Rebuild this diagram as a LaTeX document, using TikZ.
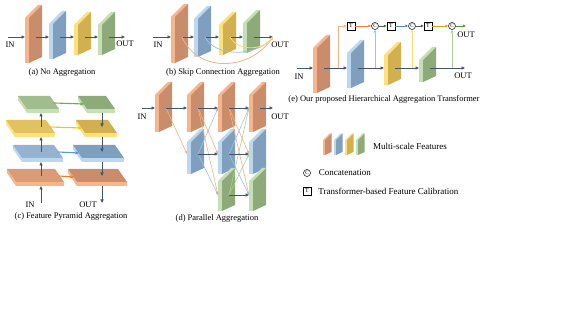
\documentclass[tikz,border=0pt]{standalone}
\usepackage{fontspec}
\setmainfont{Liberation Serif}
\usetikzlibrary{arrows.meta,positioning}

\definecolor{orL}{HTML}{F8B48A}
\definecolor{orD}{HTML}{C98D6C}
\definecolor{blL}{HTML}{BDD7EE}
\definecolor{blD}{HTML}{7F9FBF}
\definecolor{yeL}{HTML}{FFE07F}
\definecolor{yeD}{HTML}{D3B04F}
\definecolor{grL}{HTML}{C5E0B4}
\definecolor{grD}{HTML}{8DAA78}
\definecolor{arr}{HTML}{44546A}
\definecolor{orA}{HTML}{ED7D31}
\definecolor{blA}{HTML}{5B9BD5}
\definecolor{yeA}{HTML}{FFC000}
\definecolor{grA}{HTML}{70AD47}
\definecolor{orS}{HTML}{F4B183}
\definecolor{blS}{HTML}{9DC3E6}
\definecolor{yeS}{HTML}{FFD966}
\definecolor{grS}{HTML}{A9D18E}

\tikzset{
  flow/.style={arr, line width=0.9pt, -{Triangle[length=3.5pt,width=3pt]}},
  hflow/.style={line width=1.1pt, -{Triangle[length=3.5pt,width=3pt]}},
  thinflow/.style={line width=0.8pt, -{Triangle[length=3pt,width=2.6pt]}},
  dflow/.style={line width=0.6pt, -{Triangle[length=3pt,width=2.4pt]}},
  lbl/.style={font=\fontsize{8.5}{10}\selectfont, inner sep=0pt},
  subcap/.style={font=\fontsize{8.5}{10}\selectfont, inner sep=0pt},
  legend/.style={font=\fontsize{9}{11}\selectfont, inner sep=0pt, anchor=west},
  calib/.style={draw, line width=0.5pt, minimum size=8pt, inner sep=0pt, fill=white, font=\fontsize{6}{6}\selectfont},
  concat/.style={circle, draw, line width=0.5pt, minimum size=7pt, inner sep=0pt, fill=white, font=\fontsize{5}{5}\selectfont},
  % standing feature map: #1 above the line, #2 below, #3 light, #4 dark
  pics/fmap/.style n args={4}{code={
    \fill[#3] (0,-#1) rectangle (4,#2);
    \fill[#3] (0,-#1) -- (13,-#1-13) -- (17,-#1-13) -- (4,-#1) -- cycle;
    \fill[#4] (4,-#1) -- (17,-#1-13) -- (17,#2-6) -- (4,#2) -- cycle;
    \coordinate (-in) at (0,0);
    \coordinate (-out) at (11,0);
  }},
  % flat feature map: #1 width, #2 light, #3 dark
  pics/flat/.style n args={3}{code={
    \fill[#2] (0,0) -- (9,13) -- (9,17) -- (0,4) -- cycle;
    \fill[#2] (9,13) -- (#1+9,13) -- (#1+9,17) -- (9,17) -- cycle;
    \fill[#3] (0,0) -- (#1,0) -- (#1+9,13) -- (9,13) -- cycle;
    \coordinate (-w) at (6,8);
    \coordinate (-e) at (#1+4,7);
    \coordinate (-mid) at (0,7);
    \coordinate (-bot) at (0,17);
  }},
}

\begin{document}
\begin{tikzpicture}[x=1pt, y=-1pt]
	\useasboundingbox (0,0) rectangle (573,323);

	% (a) no aggregation
	\pic (aOr) at (25,37) {fmap={19}{26}{orL}{orD}};
	\pic (aBl) at (49,37) {fmap={13}{22}{blL}{blD}};
	\pic (aYe) at (74,37) {fmap={12}{18}{yeL}{yeD}};
	\pic (aGr) at (98,37) {fmap={12}{18}{grL}{grD}};
	\coordinate (aIn) at (8,37);
	\coordinate (aOut) at (125,37);
	\draw [flow] (aIn) -- (aOr-in);
	\draw [flow] (aOr-out) -- (aBl-in);
	\draw [flow] (aBl-out) -- (aYe-in);
	\draw [flow] (aYe-out) -- (aGr-in);
	\draw [flow] (aGr-out) -- (aOut);
	\node [lbl] (aInL) at (10,45) {IN};
	\node [lbl] (aOutL) at (125,44) {OUT};
	\node [subcap] (aCap) at (62,72) {(a) No Aggregation};

	% (b) skip connections
	\pic (bOr) at (171,37) {fmap={20}{26}{orL}{orD}};
	\pic (bBl) at (194,37) {fmap={18}{20}{blL}{blD}};
	\pic (bYe) at (219,37) {fmap={12}{18}{yeL}{yeD}};
	\pic (bGr) at (243,37) {fmap={14}{16}{grL}{grD}};
	\coordinate (bIn) at (153,37);
	\coordinate (bOut) at (273,37);
	\draw [flow] (bIn) -- (bOr-in);
	\draw [flow] (bOr-out) -- (bBl-in);
	\draw [flow] (bBl-out) -- (bYe-in);
	\draw [flow] (bYe-out) -- (bGr-in);
	\draw [flow] (bGr-out) -- (bOut);
	\draw [thinflow, orS] (bOr-out) .. controls +(15,35) and +(-25,35) .. (bOut);
	\draw [thinflow, blS] (bBl-out) .. controls +(10,20) and +(-18,20) .. (bOut);
	\draw [thinflow, yeS] (bYe-out) .. controls +(8,14) and +(-12,14) .. (bOut);
	\node [lbl] (bInL) at (158,45) {IN};
	\node [lbl] (bOutL) at (280,45) {OUT};
	\node [subcap] (bCap) at (223,72) {(b) Skip Connection Aggregation};

	% (e) hierarchical aggregation transformer
	\pic (eOr) at (313,68) {fmap={20}{25}{orL}{orD}};
	\pic (eBl) at (347,68) {fmap={15}{20}{blL}{blD}};
	\pic (eYe) at (384,68) {fmap={13}{17}{yeL}{yeD}};
	\pic (eGr) at (419,68) {fmap={8}{14}{grL}{grD}};
	\coordinate (eIn) at (297,68);
	\coordinate (eOut) at (465,68);
	\coordinate (eBr) at (338,68);
	\coordinate (eTop) at (466,26);
	\node [calib] (T1) at (351,26) {T};
	\node [concat] (C1) at (375,26) {C};
	\node [calib] (T2) at (391,26) {T};
	\node [concat] (C2) at (412,26) {C};
	\node [calib] (T3) at (428,26) {T};
	\node [concat] (C3) at (452,26) {C};
	\draw [thinflow, orS] (eBr) |- (T1);
	\draw [thinflow, blS] (C1 |- eBl-out) -- (C1);
	\draw [thinflow, yeS] (C2 |- eYe-out) -- (C2);
	\draw [thinflow, grS] (C3 |- eGr-out) -- (C3);
	\draw [thinflow, orA] (T1) -- (C1);
	\draw [thinflow, black!65] (C1) -- (T2);
	\draw [thinflow, blA!90!black] (T2) -- (C2);
	\draw [thinflow, black!65] (C2) -- (T3);
	\draw [thinflow, yeA!85!black] (T3) -- (C3);
	\draw [thinflow, grA!85!black] (C3) -- (eTop);
	\draw [flow] (eIn) -- (eOr-in);
	\draw [flow] (eOr-out) -- (eBl-in);
	\draw [flow] (eBl-out) -- (eYe-in);
	\draw [flow] (eYe-out) -- (eGr-in);
	\draw [flow] (eGr-out) -- (eOut);
	\node [lbl] (eInL) at (299,77) {IN};
	\node [lbl] (eOutL) at (463,76) {OUT};
	\node [lbl] (eTopL) at (466,35) {OUT};
	\node [subcap] (eCap) at (384,99) {(e) Our proposed Hierarchical Aggregation Transformer};

	% (c) feature pyramid
	\pic (cGrL) at (18,96) {flat={32}{grL}{grD!65!grL}};
	\pic (cYeL) at (6,120) {flat={40}{yeL}{yeD!65!yeL}};
	\pic (cBlL) at (13,145) {flat={41}{blL}{blD!65!blL}};
	\pic (cOrL) at (7,169) {flat={48}{orL}{orD!65!orL}};
	\pic (cGrR) at (78,96) {flat={28}{grL}{grD}};
	\pic (cYeR) at (76,120) {flat={32}{yeL}{yeD}};
	\pic (cBlR) at (73,145) {flat={42}{blL}{blD}};
	\pic (cOrR) at (68,169) {flat={50}{orL}{orD}};
	\coordinate (cIn) at (41,203);
	\coordinate (cOut) at (102,203);
	\draw [flow] (cIn) -- (cIn |- cOrL-bot);
	\draw [flow] (cIn |- cOrL-mid) -- (cIn |- cBlL-bot);
	\draw [flow] (cIn |- cBlL-mid) -- (cIn |- cYeL-bot);
	\draw [flow] (cIn |- cYeL-mid) -- (cIn |- cGrL-bot);
	\draw [flow] (cOut |- cGrR-bot) -- (cOut |- cYeR-mid);
	\draw [flow] (cOut |- cYeR-bot) -- (cOut |- cBlR-mid);
	\draw [flow] (cOut |- cBlR-bot) -- (cOut |- cOrR-mid);
	\draw [flow] (cOut |- cOrR-bot) -- (cOut);
	\draw [hflow, grA] (cGrL-e) -- (cGrR-w);
	\draw [hflow, yeA] (cYeL-e) -- (cYeR-w);
	\draw [hflow, blA] (cBlL-e) -- (cBlR-w);
	\draw [hflow, orA] (cOrL-e) -- (cOrR-w);
	\node [lbl] (cInL) at (30,205) {IN};
	\node [lbl] (cOutL) at (88,205) {OUT};
	\node [subcap] (cCap) at (71,216) {(c) Feature Pyramid Aggregation};

	% (d) parallel
	\pic (d1o) at (155,108) {fmap={13}{24}{orL}{orD}};
	\pic (d2o) at (187,108) {fmap={13}{24}{orL}{orD}};
	\pic (d3o) at (218,108) {fmap={13}{24}{orL}{orD}};
	\pic (d4o) at (249,108) {fmap={13}{24}{orL}{orD}};
	\pic (d2b) at (187,154) {fmap={12}{20}{blL}{blD}};
	\pic (d3b) at (218,154) {fmap={12}{20}{blL}{blD}};
	\pic (d4b) at (249,154) {fmap={12}{20}{blL}{blD}};
	\pic (d3g) at (218,195) {fmap={14}{16}{grL}{grD}};
	\pic (d4g) at (249,195) {fmap={14}{16}{grL}{grD}};
	\coordinate (dIn) at (142,108);
	\coordinate (dOut) at (273,108);
	\draw [dflow, orS] (d1o-out) -- (d2b-in);
	\foreach \t in {d3b,d3g} \draw [dflow, orS] (d2o-out) -- (\t-in);
	\foreach \t in {d3o,d3g} \draw [dflow, blS] (d2b-out) -- (\t-in);
	\foreach \t in {d4b,d4g} \draw [dflow, orS] (d3o-out) -- (\t-in);
	\foreach \t in {d4o,d4g} \draw [dflow, blS] (d3b-out) -- (\t-in);
	\foreach \t in {d4o,d4b} \draw [dflow, grS] (d3g-out) -- (\t-in);
	\draw [flow] (dIn) -- (d1o-in);
	\draw [flow] (d1o-out) -- (d2o-in);
	\draw [flow] (d2o-out) -- (d3o-in);
	\draw [flow] (d3o-out) -- (d4o-in);
	\draw [flow] (d4o-out) -- (dOut);
	\draw [flow] (d2b-out) -- (d3b-in);
	\draw [flow] (d3b-out) -- (d4b-in);
	\draw [flow] (d3g-out) -- (d4g-in);
	\node [lbl] (dInL) at (142,117) {IN};
	\node [lbl] (dOutL) at (280,117) {OUT};
	\node [subcap] (dCap) at (217,218) {(d) Parallel Aggregation};

	% legend
	\pic [scale=0.5] (lOr) at (323,147) {fmap={14}{16}{orL}{orD}};
	\pic [scale=0.5] (lBl) at (334,147) {fmap={14}{16}{blL}{blD}};
	\pic [scale=0.5] (lYe) at (345,147) {fmap={14}{16}{yeL}{yeD}};
	\pic [scale=0.5] (lGr) at (356,147) {fmap={14}{16}{grL}{grD}};
	\node [legend] (lgMS) at (373,146) {Multi-scale Features};
	\node [concat] (lgC) at (307,173) {C};
	\node [legend, right=8pt of lgC] (lgCT) {Concatenation};
	\node [calib] (lgT) at (307,191) {T};
	\node [legend, right=7pt of lgT] (lgTT) {Transformer-based Feature Calibration};
\end{tikzpicture}
\end{document}
